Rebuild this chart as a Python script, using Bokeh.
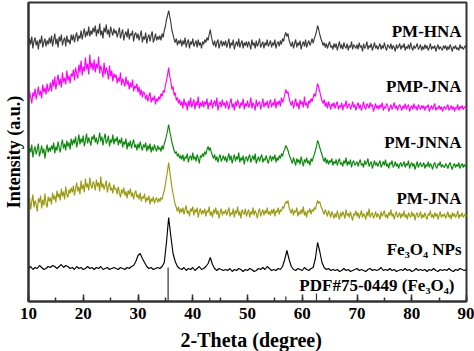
import numpy as np
from bokeh.plotting import figure
from bokeh.models import Label, SingleIntervalTicker, FixedTicker, Range1d
from bokeh.layouts import column
from bokeh.embed import file_html
from bokeh.resources import INLINE

# 2-theta sampling grids (degrees)
two_theta_fine = np.round(np.linspace(10, 90, 401), 2)   # 0.2 deg step
two_theta = np.round(np.linspace(10, 90, 201), 2)        # 0.4 deg step

# Intensities (a.u.); one row per 4 degrees
pm_hna = [
    14, 22, 16, 24, 12, 19, 23, 15, 20, 11, 21, 17, 25, 13, 18, 22, 14, 20, 16, 23,
    17, 25, 14, 21, 27, 16, 22, 13, 24, 19, 26, 15, 20, 23, 14, 25, 18, 21, 16, 26,
    20, 26, 18, 24, 28, 19, 25, 22, 30, 21, 27, 32, 23, 29, 25, 34, 24, 30, 26, 33,
    28, 35, 24, 31, 27, 37, 25, 30, 22, 33, 28, 36, 26, 31, 23, 34, 29, 25, 32, 27,
    30, 23, 28, 33, 22, 27, 31, 20, 26, 29, 23, 32, 21, 27, 25, 30, 19, 26, 28, 22,
    27, 20, 25, 30, 18, 24, 21, 28, 17, 23, 26, 19, 25, 29, 18, 22, 27, 20, 24, 21,
    25, 20, 27, 23, 30, 34, 41, 45, 50, 44, 38, 30, 26, 21, 18, 22, 15, 20, 17, 21,
    14, 20, 16, 23, 13, 18, 21, 12, 19, 16, 22, 14, 17, 20, 13, 21, 15, 18, 12, 19,
    16, 21, 18, 23, 20, 26, 31, 24, 19, 15, 20, 13, 18, 21, 12, 17, 20, 14, 19, 15,
    20, 13, 17, 22, 12, 18, 15, 21, 11, 16, 19, 14, 22, 13, 17, 20, 12, 18, 15, 19,
    13, 19, 16, 11, 21, 15, 18, 12, 20, 14, 17, 22, 13, 16, 19, 12, 18, 15, 21, 14,
    17, 20, 13, 18, 15, 21, 12, 17, 19, 14, 20, 16, 22, 19, 25, 28, 24, 27, 20, 17,
    14, 19, 12, 17, 21, 13, 18, 15, 20, 11, 16, 19, 14, 21, 13, 17, 20, 15, 18, 22,
    17, 22, 25, 29, 35, 31, 26, 22, 19, 15, 18, 13, 17, 12, 16, 19, 13, 15, 11, 17,
    13, 17, 10, 15, 19, 12, 16, 11, 18, 14, 12, 17, 10, 15, 13, 19, 11, 16, 14, 12,
    16, 11, 18, 13, 15, 9, 17, 12, 14, 19, 11, 15, 13, 17, 10, 14, 18, 12, 15, 11,
    14, 17, 11, 15, 12, 18, 13, 10, 16, 14, 12, 17, 11, 15, 13, 9, 16, 12, 14, 17,
    11, 15, 13, 17, 10, 14, 12, 16, 11, 18, 13, 10, 15, 12, 14, 17, 11, 13, 16, 10,
    14, 11, 16, 12, 15, 10, 13, 17, 11, 14, 12, 15, 9, 13, 16, 11, 14, 12, 10, 15,
    12, 15, 10, 14, 11, 16, 13, 9, 14, 12, 15, 11, 13, 10, 16, 12, 14, 11, 13, 15,
    12,
]
pmp_jna = [
    20, 29, 23, 17, 28, 24, 32, 21, 27, 34, 25, 30, 22, 36, 28, 33, 26, 37, 29, 31,
    38, 29, 41, 34, 44, 31, 39, 46, 35, 42, 33, 48, 38, 43, 36, 50, 40, 45, 37, 47,
    44, 51, 40, 53, 47, 42, 56, 48, 60, 45, 54, 49, 63, 51, 57, 46, 66, 52, 58, 50,
    61, 48, 57, 52, 64, 47, 55, 50, 43, 58, 46, 53, 49, 41, 55, 44, 50, 39, 47, 43,
    46, 37, 43, 39, 48, 35, 42, 38, 34, 44, 36, 40, 31, 38, 33, 41, 29, 35, 32, 37,
    28, 34, 25, 31, 23, 29, 27, 21, 26, 19, 24, 28, 18, 23, 20, 25, 16, 22, 19, 24,
    21, 27, 24, 30, 28, 35, 40, 46, 53, 44, 39, 31, 34, 25, 28, 20, 23, 17, 21, 15,
    19, 12, 22, 15, 18, 10, 20, 14, 23, 13, 17, 21, 11, 19, 15, 24, 12, 18, 14, 20,
    13, 19, 16, 22, 11, 18, 15, 21, 12, 17, 20, 14, 23, 10, 16, 19, 13, 21, 15, 18,
    12, 20, 15, 11, 18, 22, 13, 17, 10, 19, 14, 21, 16, 12, 18, 15, 22, 11, 17, 14,
    20, 13, 16, 23, 12, 18, 15, 10, 21, 14, 17, 19, 11, 16, 22, 13, 18, 15, 20, 12,
    17, 21, 13, 18, 15, 22, 12, 19, 16, 20, 14, 23, 18, 21, 26, 31, 27, 29, 22, 18,
    15, 20, 12, 17, 22, 14, 18, 11, 21, 16, 19, 13, 24, 15, 18, 12, 20, 17, 22, 19,
    23, 27, 24, 31, 37, 33, 29, 24, 20, 17, 21, 14, 18, 12, 19, 15, 11, 17, 14, 18,
    12, 16, 19, 11, 15, 13, 18, 10, 16, 14, 20, 12, 15, 17, 11, 14, 19, 13, 16, 10,
    15, 18, 12, 16, 10, 14, 19, 13, 11, 17, 15, 12, 18, 14, 16, 9, 13, 17, 12, 15,
    11, 16, 13, 18, 10, 14, 12, 17, 15, 9, 13, 16, 11, 14, 18, 12, 15, 10, 14, 16,
    13, 10, 15, 12, 17, 11, 14, 16, 9, 13, 15, 11, 17, 12, 14, 10, 16, 13, 11, 15,
    12, 15, 10, 14, 13, 16, 9, 12, 15, 11, 14, 17, 10, 13, 12, 15, 11, 14, 9, 13,
    14, 11, 13, 16, 10, 12, 15, 11, 14, 9, 13, 12, 16, 10, 14, 12, 15, 11, 13, 14,
    12,
]
pm_jnna = [
    25, 33, 28, 36, 23, 30, 34, 26, 31, 37, 24, 29, 35, 27, 32, 22, 30, 36, 28, 33,
    29, 35, 31, 38, 27, 34, 30, 39, 33, 28, 36, 41, 32, 37, 30, 40, 34, 38, 31, 42,
    35, 41, 37, 44, 33, 39, 46, 36, 42, 38, 45, 34, 40, 47, 37, 43, 39, 35, 44, 41,
    46, 38, 43, 36, 41, 48, 39, 44, 35, 42, 47, 37, 40, 45, 34, 41, 38, 46, 36, 42,
    39, 44, 35, 41, 37, 43, 33, 39, 36, 42, 31, 38, 34, 40, 32, 37, 41, 33, 36, 30,
    37, 32, 39, 34, 30, 36, 33, 38, 29, 35, 31, 37, 28, 34, 30, 36, 32, 29, 35, 31,
    33, 29, 35, 31, 37, 40, 45, 50, 56, 49, 44, 38, 34, 30, 27, 29, 24, 27, 22, 25,
    21, 26, 19, 24, 22, 27, 18, 23, 25, 20, 28, 21, 24, 19, 26, 22, 17, 25, 23, 27,
    24, 29, 26, 31, 34, 30, 33, 28, 25, 22, 26, 20, 24, 18, 23, 26, 19, 22, 25, 20,
    24, 18, 23, 27, 20, 25, 17, 22, 26, 19, 24, 21, 28, 18, 23, 20, 25, 16, 22, 24,
    19, 23, 26, 18, 22, 25, 20, 27, 17, 21, 24, 19, 23, 26, 18, 22, 20, 25, 21, 17,
    22, 25, 19, 24, 21, 26, 18, 23, 20, 25, 22, 27, 24, 29, 31, 35, 33, 30, 26, 23,
    20, 17, 23, 19, 15, 22, 18, 21, 16, 24, 19, 14, 21, 18, 23, 17, 20, 15, 22, 19,
    23, 26, 30, 34, 40, 37, 33, 29, 26, 22, 19, 23, 17, 21, 16, 20, 18, 22, 15, 19,
    17, 21, 15, 19, 22, 16, 18, 14, 20, 17, 23, 15, 19, 16, 21, 13, 18, 20, 15, 17,
    19, 14, 18, 21, 15, 17, 13, 20, 16, 18, 22, 14, 17, 19, 12, 16, 20, 15, 18, 14,
    17, 20, 13, 16, 19, 15, 21, 14, 17, 12, 18, 16, 20, 13, 15, 19, 14, 17, 12, 16,
    18, 14, 16, 19, 13, 17, 15, 20, 12, 16, 18, 14, 17, 11, 15, 19, 13, 16, 18, 14,
    15, 18, 12, 16, 14, 19, 13, 17, 15, 11, 16, 18, 14, 12, 17, 15, 19, 13, 16, 14,
    13, 17, 15, 12, 16, 18, 14, 11, 15, 17, 13, 16, 14, 18, 12, 15, 17, 13, 16, 14,
    15,
]
pm_jna = [
    29, 38, 26, 34, 41, 28, 35, 31, 24, 37, 33, 40, 27, 36, 30, 42, 32, 28, 39, 34,
    38, 31, 43, 36, 40, 33, 45, 38, 42, 35, 47, 39, 44, 36, 49, 41, 38, 46, 42, 48,
    43, 50, 40, 47, 53, 44, 49, 41, 55, 46, 51, 43, 57, 48, 52, 45, 58, 50, 47, 54,
    51, 45, 56, 49, 53, 44, 59, 48, 52, 46, 50, 55, 43, 49, 53, 45, 48, 42, 51, 46,
    47, 41, 49, 43, 38, 46, 42, 48, 40, 44, 37, 45, 41, 47, 39, 43, 36, 42, 45, 38,
    41, 36, 43, 34, 39, 37, 42, 33, 38, 35, 40, 31, 37, 34, 39, 32, 36, 38, 33, 37,
    34, 38, 36, 41, 45, 51, 58, 65, 73, 64, 56, 48, 42, 36, 31, 28, 24, 29, 22, 27,
    23, 28, 21, 26, 30, 22, 25, 19, 27, 24, 29, 20, 26, 23, 28, 18, 24, 27, 21, 25,
    22, 27, 19, 25, 23, 29, 20, 24, 18, 26, 22, 28, 21, 25, 17, 23, 27, 20, 24, 22,
    26, 20, 24, 28, 19, 23, 21, 27, 18, 25, 22, 29, 20, 24, 17, 26, 23, 21, 27, 19,
    23, 26, 18, 24, 21, 28, 20, 25, 22, 17, 24, 27, 19, 23, 26, 20, 25, 22, 28, 21,
    24, 20, 26, 22, 27, 19, 25, 23, 28, 21, 26, 24, 29, 27, 31, 34, 32, 35, 28, 25,
    22, 27, 20, 25, 23, 28, 19, 24, 21, 26, 22, 29, 20, 24, 18, 25, 23, 27, 21, 26,
    24, 28, 26, 31, 35, 32, 34, 29, 27, 24, 21, 26, 23, 19, 25, 22, 18, 24, 21, 17,
    22, 18, 25, 20, 16, 23, 19, 24, 21, 17, 26, 20, 22, 18, 24, 19, 15, 22, 20, 25,
    19, 23, 17, 21, 25, 18, 22, 20, 16, 24, 19, 27, 18, 21, 23, 17, 20, 24, 18, 22,
    20, 16, 24, 19, 22, 25, 18, 21, 17, 23, 20, 26, 19, 22, 16, 21, 24, 18, 20, 23,
    17, 22, 19, 25, 18, 21, 16, 23, 20, 18, 24, 19, 22, 15, 21, 23, 18, 20, 24, 17,
    21, 18, 23, 19, 16, 22, 20, 25, 18, 21, 17, 23, 19, 22, 16, 20, 24, 18, 21, 19,
    22, 17, 20, 24, 18, 21, 16, 23, 19, 22, 18, 20, 25, 17, 21, 19, 23, 18, 20, 22,
    19,
]
fe3o4_nps = [
    12, 14, 11, 13, 12, 15, 13, 11, 12, 14,
    13, 15, 14, 12, 14, 16, 13, 15, 14, 12,
    13, 11, 14, 12, 13, 11, 12, 14, 12, 13,
    11, 13, 12, 14, 11, 12, 13, 11, 12, 13,
    12, 11, 13, 12, 11, 13, 12, 14, 15, 19,
    25, 27, 22, 18, 14, 12, 13, 11, 12, 13,
    12, 14, 18, 38, 63, 44, 27, 19, 14, 12,
    11, 13, 10, 12, 11, 13, 10, 12, 14, 11,
    12, 14, 17, 23, 16, 12, 10, 12, 11, 10,
    11, 10, 12, 9, 11, 10, 12, 11, 9, 11,
    10, 12, 11, 9, 10, 12, 11, 13, 11, 14,
    12, 10, 11, 10, 12, 11, 14, 21, 30, 21,
    14, 11, 10, 12, 11, 10, 13, 11, 10, 12,
    13, 22, 38, 29, 18, 13, 11, 12, 10, 11,
    10, 11, 9, 10, 12, 10, 11, 9, 10, 11,
    12, 10, 11, 10, 9, 11, 12, 10, 11, 10,
    11, 13, 10, 11, 10, 12, 10, 11, 9, 10,
    11, 10, 12, 10, 11, 9, 10, 12, 10, 11,
    10, 11, 9, 11, 10, 12, 10, 9, 11, 10,
    11, 10, 12, 10, 9, 11, 10, 12, 11, 10,
    11,
]

# PDF#75-0449 reference lines
pdf_positions = [30.1, 35.5, 43.1, 57.0, 62.6]
pdf_heights = [7, 34, 4, 5, 8]

series_names = ["PM-HNA", "PMP-JNA", "PM-JNNA", "PM-JNA", "Fe\u2083O\u2084 NPs"]
series_values = [pm_hna, pmp_jna, pm_jnna, pm_jna, fe3o4_nps]
series_x = [two_theta_fine, two_theta_fine, two_theta_fine, two_theta_fine, two_theta]

# layout / style (kept separate from the data)
offsets = [241, 181, 121, 66, 21]
colors = ["#3a3a3a", "#ff00ff", "#0b870b", "#9a9a12", "#000000"]
label_y = [270, 215, 159, 103, 52]
FONT = "Liberation Serif"
FRAME = "#333333"

p = figure(width=474, height=328, output_backend="svg", toolbar_location=None,
           x_range=Range1d(10, 90), y_range=Range1d(0, 299),
           min_border_left=27, min_border_right=8, min_border_top=2,
           min_border_bottom=27)
p.grid.visible = False
p.outline_line_color = FRAME
p.outline_line_width = 2
p.background_fill_color = "white"
p.border_fill_color = "white"

ax = p.xaxis[0]
ax.ticker = SingleIntervalTicker(interval=10, num_minor_ticks=2)
ax.axis_line_color = FRAME
ax.axis_line_width = 2
ax.major_tick_in = 7
ax.major_tick_out = 0
ax.minor_tick_in = 4
ax.minor_tick_out = 0
ax.major_tick_line_color = FRAME
ax.minor_tick_line_color = FRAME
ax.major_tick_line_width = 1.5
ax.minor_tick_line_width = 1.5
ax.major_label_text_font = FONT
ax.major_label_text_font_style = "bold"
ax.major_label_text_font_size = "17px"
ax.major_label_text_color = "black"
ax.major_label_standoff = 6

ay = p.yaxis[0]
ay.ticker = FixedTicker(ticks=[])
ay.axis_line_color = FRAME
ay.axis_line_width = 2
ay.major_tick_in = 0
ay.major_tick_out = 0
ay.minor_tick_in = 0
ay.minor_tick_out = 0
ay.major_label_standoff = 0
ay.axis_label = "Intensity (a.u.)"
ay.axis_label_text_font = FONT
ay.axis_label_text_font_style = "bold"
ay.axis_label_text_font_size = "18px"
ay.axis_label_text_color = "black"
ay.axis_label_standoff = 5

for xs, vals, off, col in zip(series_x, series_values, offsets, colors):
    y = np.asarray(vals, dtype=float) + off
    p.line(xs, y, line_color=col, line_width=1.15)

p.segment(x0=pdf_positions, y0=[0] * len(pdf_positions), x1=pdf_positions,
          y1=pdf_heights, line_color="#333333", line_width=1.2)

for name, ly in zip(series_names, label_y):
    p.add_layout(Label(x=89.1, y=ly, text=name, text_align="right",
                       text_baseline="middle", text_font=FONT,
                       text_font_style="bold", text_font_size="17px",
                       text_color="black"))

p.add_layout(Label(x=87.8, y=16, text="PDF#75-0449 (Fe\u2083O\u2084)",
                   text_align="right", text_baseline="middle", text_font=FONT,
                   text_font_style="bold", text_font_size="17px",
                   text_color="black"))

# strip under the chart holding the x-axis title
t = figure(width=474, height=23, output_backend="svg", toolbar_location=None,
           x_range=Range1d(0, 474), y_range=Range1d(0, 23),
           x_axis_location=None, y_axis_location=None, min_border=0)
t.grid.visible = False
t.outline_line_color = None
t.background_fill_color = "white"
t.border_fill_color = "white"
t.add_layout(Label(x=241, y=11.5, text="2-Theta (degree)", text_align="center",
                   text_baseline="middle", text_font=FONT,
                   text_font_style="bold", text_font_size="20px",
                   text_color="black"))

layout = column(p, t, spacing=0)
open("out.html", "w").write(file_html(layout, INLINE))
